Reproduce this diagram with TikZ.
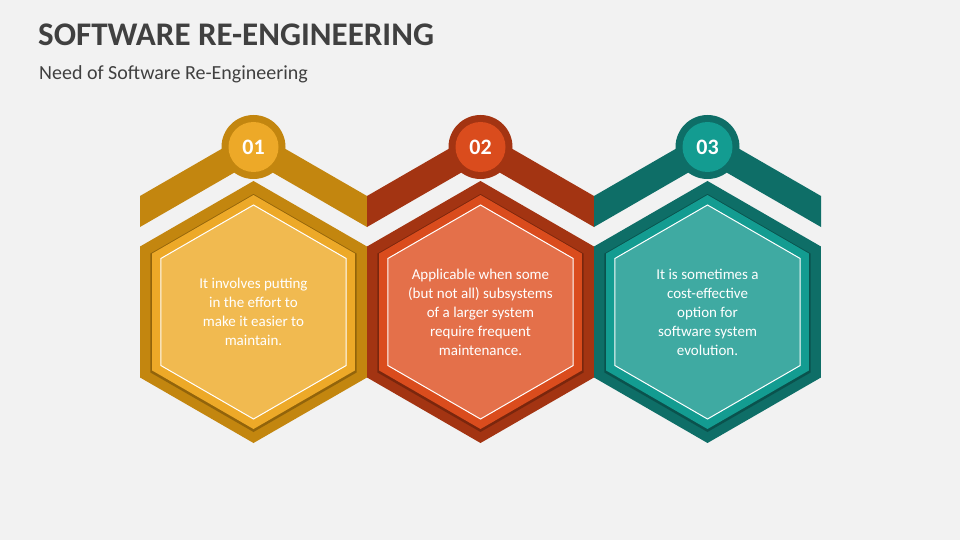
\documentclass[tikz,border=0pt]{standalone}
\usepackage{fontspec}
\setmainfont{Carlito}
\definecolor{bg}{HTML}{F2F2F2}
\definecolor{aD}{HTML}{C3860F}\definecolor{aM}{HTML}{EDA928}\definecolor{aL}{HTML}{F1BA50}
\definecolor{bD}{HTML}{A33412}\definecolor{bM}{HTML}{DA4C1D}\definecolor{bL}{HTML}{E4704A}
\definecolor{cD}{HTML}{0E6E67}\definecolor{cM}{HTML}{139C91}\definecolor{cL}{HTML}{3FAAA2}
\definecolor{ttl}{HTML}{404040}
\newcommand{\hexpath}[3]{(#1,#2-#3) -- (#1+0.866*#3,#2-0.5*#3) -- (#1+0.866*#3,#2+0.5*#3) -- (#1,#2+#3) -- (#1-0.866*#3,#2+0.5*#3) -- (#1-0.866*#3,#2-0.5*#3) -- cycle}
\begin{document}
\begin{tikzpicture}[x=1pt,y=-1pt,
  txt/.style={text=white,font=\fontsize{15}{19}\selectfont,align=center}]
\fill[bg] (0,0) rectangle (960,540);
\useasboundingbox (0,0) rectangle (960,540);
\node[anchor=base west,text=ttl,font=\fontsize{33}{36}\selectfont\bfseries,inner sep=0] (title) at (38,46) {SOFTWARE RE-ENGINEERING};
\node[anchor=base west,text=ttl,font=\fontsize{20}{24}\selectfont,inner sep=0] (sub) at (39,80) {Need of Software Re-Engineering};
\foreach \cx/\D/\M/\L/\n/\t in {253.5/aD/aM/aL/01/{It involves putting\\in the effort to\\make it easier to\\maintain.},
  480.5/bD/bM/bL/02/{Applicable when some\\(but not all) subsystems\\of a larger system\\require frequent\\maintenance.},
  707.5/cD/cM/cL/03/{It is sometimes a\\cost-effective\\option for\\software system\\evolution.}}{
  \fill[\D] (\cx-113.5,196) -- (\cx,130.5) -- (\cx+113.5,196) -- (\cx+113.5,227) -- (\cx,161.5) -- (\cx-113.5,227) -- cycle;
  \fill[\D] \hexpath{\cx}{312}{131};
  \fill[black,opacity=0.25] \hexpath{\cx}{313}{119};
  \fill[\M] \hexpath{\cx}{312}{117};
  \filldraw[fill=\L,draw=white,line width=1pt] \hexpath{\cx}{312}{107};
  \fill[\D] (\cx,147) circle (32);
  \node[circle,fill=\M,minimum size=50pt,inner sep=0,text=white,font=\fontsize{22}{24}\selectfont\bfseries] (n\n) at (\cx,147) {\n};
  \node[txt] (t\n) at (\cx,312) {\t};
}
\end{tikzpicture}
\end{document}
